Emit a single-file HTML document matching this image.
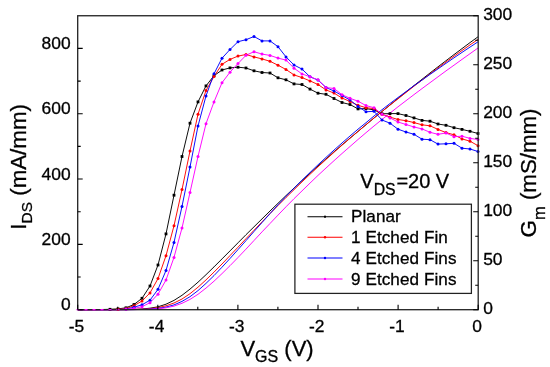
<!DOCTYPE html>
<html><head><meta charset="utf-8"><title>Transfer characteristics</title>
<style>html,body{margin:0;padding:0;background:#fff}svg{display:block}text{font-family:"Liberation Sans",Arial,sans-serif;fill:#000;stroke:#000;stroke-width:.3px}</style></head><body>
<svg width="550" height="367" viewBox="0 0 550 367">
<rect width="550" height="367" fill="#fff"/>
<g fill="none" stroke-width="0.95" stroke-linejoin="round">
<polyline stroke="#000000" points="78.0,309.7 86.0,309.7 94.0,309.7 102.0,309.7 110.0,309.7 118.0,309.7 126.0,309.6 134.0,309.4 142.0,309.0 150.0,308.2 158.0,306.8 166.0,304.2 174.0,300.4 182.0,295.3 190.0,289.1 198.0,282.2 206.0,274.7 214.0,266.9 222.0,258.9 230.0,250.9 238.0,242.8 246.0,234.7 254.0,226.8 262.0,218.9 270.0,211.0 278.0,203.3 286.0,195.6 294.0,188.1 302.0,180.6 310.0,173.2 318.0,166.0 326.0,158.9 334.0,151.8 342.0,144.9 350.0,138.1 358.0,131.4 366.0,124.7 374.0,118.0 382.0,111.5 390.0,105.0 398.0,98.4 406.0,92.0 414.0,85.6 422.0,79.3 430.0,73.0 438.0,66.8 446.0,60.7 454.0,54.6 462.0,48.6 470.0,42.6 478.0,36.8"/>
<polyline stroke="#ff0000" points="78.0,309.7 86.0,309.7 94.0,309.7 102.0,309.7 110.0,309.7 118.0,309.7 126.0,309.6 134.0,309.5 142.0,309.2 150.0,308.7 158.0,307.6 166.0,305.8 174.0,303.0 182.0,299.0 190.0,293.7 198.0,287.2 206.0,279.9 214.0,272.1 222.0,264.0 230.0,255.6 238.0,247.2 246.0,238.7 254.0,230.3 262.0,221.9 270.0,213.6 278.0,205.5 286.0,197.5 294.0,189.7 302.0,181.9 310.0,174.3 318.0,166.8 326.0,159.5 334.0,152.3 342.0,145.2 350.0,138.3 358.0,131.5 366.0,124.7 374.0,118.0 382.0,111.5 390.0,105.1 398.0,98.8 406.0,92.5 414.0,86.2 422.0,80.1 430.0,73.9 438.0,67.9 446.0,62.0 454.0,56.2 462.0,50.5 470.0,44.9 478.0,39.4"/>
<polyline stroke="#0000ff" points="78.0,309.7 86.0,309.7 94.0,309.7 102.0,309.7 110.0,309.7 118.0,309.7 126.0,309.7 134.0,309.6 142.0,309.4 150.0,309.1 158.0,308.4 166.0,307.1 174.0,304.9 182.0,301.4 190.0,296.7 198.0,290.6 206.0,283.4 214.0,275.6 222.0,267.2 230.0,258.5 238.0,249.6 246.0,240.6 254.0,231.5 262.0,222.6 270.0,213.6 278.0,204.8 286.0,196.4 294.0,188.3 302.0,180.2 310.0,172.5 318.0,164.8 326.0,157.4 334.0,150.1 342.0,143.0 350.0,136.0 358.0,129.2 366.0,122.7 374.0,116.0 382.0,109.7 390.0,103.5 398.0,97.5 406.0,91.6 414.0,85.7 422.0,80.1 430.0,74.4 438.0,68.9 446.0,63.3 454.0,57.8 462.0,52.4 470.0,47.1 478.0,41.8"/>
<polyline stroke="#ff00ff" points="78.0,309.7 86.0,309.7 94.0,309.7 102.0,309.7 110.0,309.7 118.0,309.7 126.0,309.7 134.0,309.6 142.0,309.5 150.0,309.3 158.0,308.8 166.0,307.8 174.0,306.1 182.0,303.3 190.0,299.4 198.0,294.3 206.0,288.1 214.0,281.2 222.0,273.6 230.0,265.7 238.0,257.5 246.0,249.1 254.0,240.5 262.0,231.9 270.0,223.5 278.0,215.1 286.0,206.8 294.0,198.7 302.0,190.9 310.0,183.1 318.0,175.4 326.0,168.0 334.0,160.7 342.0,153.5 350.0,146.5 358.0,139.5 366.0,132.7 374.0,126.0 382.0,119.5 390.0,113.1 398.0,106.8 406.0,100.7 414.0,94.6 422.0,88.6 430.0,82.7 438.0,76.8 446.0,70.9 454.0,65.2 462.0,59.4 470.0,53.7 478.0,48.0"/>
<polyline stroke="#000000" points="78.0,309.7 86.0,309.7 94.0,309.6 102.0,309.5 110.0,309.3 118.0,308.9 126.0,307.8 134.0,304.5 142.0,298.3 150.0,286.0 158.0,265.0 166.0,233.9 174.0,195.2 182.0,156.5 190.0,123.2 198.0,101.9 206.0,85.9 214.0,75.7 222.0,70.0 230.0,67.9 238.0,67.2 246.0,68.0 254.0,70.8 262.0,72.5 270.0,73.0 278.0,77.8 286.0,79.8 294.0,83.9 302.0,84.5 310.0,89.1 318.0,93.2 326.0,94.3 334.0,98.5 342.0,102.5 350.0,104.5 358.0,108.9 366.0,108.6 374.0,109.9 382.0,113.8 390.0,113.6 398.0,113.6 406.0,115.5 414.0,117.9 422.0,120.4 430.0,121.2 438.0,124.0 446.0,125.3 454.0,127.7 462.0,129.4 470.0,131.3 478.0,133.5"/>
<polyline stroke="#ff0000" points="78.0,309.7 86.0,309.7 94.0,309.7 102.0,309.6 110.0,309.5 118.0,309.3 126.0,308.6 134.0,305.7 142.0,301.0 150.0,292.9 158.0,278.6 166.0,255.7 174.0,225.7 182.0,189.6 190.0,151.0 198.0,114.2 206.0,90.5 214.0,76.5 222.0,64.3 230.0,59.4 238.0,56.1 246.0,54.5 254.0,56.9 262.0,58.9 270.0,61.3 278.0,65.2 286.0,69.5 294.0,74.9 302.0,77.6 310.0,80.9 318.0,84.5 326.0,89.9 334.0,93.1 342.0,98.0 350.0,101.5 358.0,105.3 366.0,107.7 374.0,108.6 382.0,114.3 390.0,117.1 398.0,119.5 406.0,120.7 414.0,122.6 422.0,124.8 430.0,125.8 438.0,129.4 446.0,132.6 454.0,134.8 462.0,138.9 470.0,141.2 478.0,145.7"/>
<polyline stroke="#0000ff" points="78.0,309.7 86.0,309.7 94.0,309.7 102.0,309.7 110.0,309.6 118.0,309.5 126.0,309.1 134.0,307.2 142.0,304.8 150.0,300.2 158.0,289.3 166.0,270.5 174.0,242.4 182.0,206.4 190.0,167.0 198.0,126.0 206.0,95.9 214.0,73.8 222.0,58.2 230.0,49.5 238.0,41.7 246.0,39.7 254.0,36.5 262.0,40.9 270.0,40.9 278.0,46.7 286.0,56.9 294.0,65.0 302.0,69.1 310.0,76.8 318.0,80.1 326.0,87.5 334.0,91.0 342.0,95.5 350.0,100.0 358.0,106.4 366.0,111.8 374.0,111.3 382.0,120.0 390.0,123.2 398.0,129.2 406.0,132.0 414.0,134.3 422.0,139.2 430.0,139.7 438.0,144.1 446.0,143.8 454.0,143.3 462.0,148.2 470.0,149.0 478.0,151.5"/>
<polyline stroke="#ff00ff" points="78.0,309.7 86.0,309.7 94.0,309.7 102.0,309.7 110.0,309.7 118.0,309.6 126.0,309.3 134.0,308.4 142.0,306.7 150.0,302.7 158.0,294.2 166.0,280.0 174.0,257.4 182.0,228.0 190.0,192.5 198.0,156.5 206.0,123.7 214.0,101.9 222.0,82.7 230.0,72.2 238.0,63.5 246.0,55.3 254.0,51.7 262.0,54.1 270.0,55.4 278.0,58.1 286.0,60.1 294.0,68.2 302.0,73.9 310.0,76.8 318.0,79.8 326.0,87.5 334.0,88.5 342.0,94.7 350.0,98.3 358.0,101.2 366.0,105.6 374.0,107.7 382.0,114.3 390.0,117.9 398.0,122.0 406.0,124.5 414.0,127.0 422.0,128.9 430.0,132.3 438.0,134.3 446.0,133.0 454.0,136.7 462.0,136.2 470.0,138.4 478.0,139.5"/>
</g>
<g fill="#000000">
<rect x="108.6" y="307.9" width="2.8" height="2.8"/>
<rect x="116.6" y="307.5" width="2.8" height="2.8"/>
<rect x="124.6" y="306.4" width="2.8" height="2.8"/>
<rect x="132.6" y="303.1" width="2.8" height="2.8"/>
<rect x="140.6" y="296.9" width="2.8" height="2.8"/>
<rect x="148.6" y="284.6" width="2.8" height="2.8"/>
<rect x="156.6" y="263.6" width="2.8" height="2.8"/>
<rect x="164.6" y="232.5" width="2.8" height="2.8"/>
<rect x="172.6" y="193.8" width="2.8" height="2.8"/>
<rect x="180.6" y="155.1" width="2.8" height="2.8"/>
<rect x="188.6" y="121.8" width="2.8" height="2.8"/>
<rect x="196.6" y="100.5" width="2.8" height="2.8"/>
<rect x="204.6" y="84.5" width="2.8" height="2.8"/>
<rect x="212.6" y="74.3" width="2.8" height="2.8"/>
<rect x="220.6" y="68.6" width="2.8" height="2.8"/>
<rect x="228.6" y="66.5" width="2.8" height="2.8"/>
<rect x="236.6" y="65.8" width="2.8" height="2.8"/>
<rect x="244.6" y="66.6" width="2.8" height="2.8"/>
<rect x="252.6" y="69.4" width="2.8" height="2.8"/>
<rect x="260.6" y="71.1" width="2.8" height="2.8"/>
<rect x="268.6" y="71.6" width="2.8" height="2.8"/>
<rect x="276.6" y="76.4" width="2.8" height="2.8"/>
<rect x="284.6" y="78.4" width="2.8" height="2.8"/>
<rect x="292.6" y="82.5" width="2.8" height="2.8"/>
<rect x="300.6" y="83.1" width="2.8" height="2.8"/>
<rect x="308.6" y="87.7" width="2.8" height="2.8"/>
<rect x="316.6" y="91.8" width="2.8" height="2.8"/>
<rect x="324.6" y="92.9" width="2.8" height="2.8"/>
<rect x="332.6" y="97.1" width="2.8" height="2.8"/>
<rect x="340.6" y="101.1" width="2.8" height="2.8"/>
<rect x="348.6" y="103.1" width="2.8" height="2.8"/>
<rect x="356.6" y="107.5" width="2.8" height="2.8"/>
<rect x="364.6" y="107.2" width="2.8" height="2.8"/>
<rect x="372.6" y="108.5" width="2.8" height="2.8"/>
<rect x="380.6" y="112.4" width="2.8" height="2.8"/>
<rect x="388.6" y="112.2" width="2.8" height="2.8"/>
<rect x="396.6" y="112.2" width="2.8" height="2.8"/>
<rect x="404.6" y="114.1" width="2.8" height="2.8"/>
<rect x="412.6" y="116.5" width="2.8" height="2.8"/>
<rect x="420.6" y="119.0" width="2.8" height="2.8"/>
<rect x="428.6" y="119.8" width="2.8" height="2.8"/>
<rect x="436.6" y="122.6" width="2.8" height="2.8"/>
<rect x="444.6" y="123.9" width="2.8" height="2.8"/>
<rect x="452.6" y="126.3" width="2.8" height="2.8"/>
<rect x="460.6" y="128.0" width="2.8" height="2.8"/>
<rect x="468.6" y="129.9" width="2.8" height="2.8"/>
<rect x="476.6" y="132.1" width="2.8" height="2.8"/>
</g>
<g fill="#ff0000">
<circle cx="118.0" cy="309.3" r="1.5"/>
<circle cx="126.0" cy="308.6" r="1.5"/>
<circle cx="134.0" cy="305.7" r="1.5"/>
<circle cx="142.0" cy="301.0" r="1.5"/>
<circle cx="150.0" cy="292.9" r="1.5"/>
<circle cx="158.0" cy="278.6" r="1.5"/>
<circle cx="166.0" cy="255.7" r="1.5"/>
<circle cx="174.0" cy="225.7" r="1.5"/>
<circle cx="182.0" cy="189.6" r="1.5"/>
<circle cx="190.0" cy="151.0" r="1.5"/>
<circle cx="198.0" cy="114.2" r="1.5"/>
<circle cx="206.0" cy="90.5" r="1.5"/>
<circle cx="214.0" cy="76.5" r="1.5"/>
<circle cx="222.0" cy="64.3" r="1.5"/>
<circle cx="230.0" cy="59.4" r="1.5"/>
<circle cx="238.0" cy="56.1" r="1.5"/>
<circle cx="246.0" cy="54.5" r="1.5"/>
<circle cx="254.0" cy="56.9" r="1.5"/>
<circle cx="262.0" cy="58.9" r="1.5"/>
<circle cx="270.0" cy="61.3" r="1.5"/>
<circle cx="278.0" cy="65.2" r="1.5"/>
<circle cx="286.0" cy="69.5" r="1.5"/>
<circle cx="294.0" cy="74.9" r="1.5"/>
<circle cx="302.0" cy="77.6" r="1.5"/>
<circle cx="310.0" cy="80.9" r="1.5"/>
<circle cx="318.0" cy="84.5" r="1.5"/>
<circle cx="326.0" cy="89.9" r="1.5"/>
<circle cx="334.0" cy="93.1" r="1.5"/>
<circle cx="342.0" cy="98.0" r="1.5"/>
<circle cx="350.0" cy="101.5" r="1.5"/>
<circle cx="358.0" cy="105.3" r="1.5"/>
<circle cx="366.0" cy="107.7" r="1.5"/>
<circle cx="374.0" cy="108.6" r="1.5"/>
<circle cx="382.0" cy="114.3" r="1.5"/>
<circle cx="390.0" cy="117.1" r="1.5"/>
<circle cx="398.0" cy="119.5" r="1.5"/>
<circle cx="406.0" cy="120.7" r="1.5"/>
<circle cx="414.0" cy="122.6" r="1.5"/>
<circle cx="422.0" cy="124.8" r="1.5"/>
<circle cx="430.0" cy="125.8" r="1.5"/>
<circle cx="438.0" cy="129.4" r="1.5"/>
<circle cx="446.0" cy="132.6" r="1.5"/>
<circle cx="454.0" cy="134.8" r="1.5"/>
<circle cx="462.0" cy="138.9" r="1.5"/>
<circle cx="470.0" cy="141.2" r="1.5"/>
<circle cx="478.0" cy="145.7" r="1.5"/>
</g>
<g fill="#0000ff">
<circle cx="126.0" cy="309.1" r="1.5"/>
<circle cx="134.0" cy="307.2" r="1.5"/>
<circle cx="142.0" cy="304.8" r="1.5"/>
<circle cx="150.0" cy="300.2" r="1.5"/>
<circle cx="158.0" cy="289.3" r="1.5"/>
<circle cx="166.0" cy="270.5" r="1.5"/>
<circle cx="174.0" cy="242.4" r="1.5"/>
<circle cx="182.0" cy="206.4" r="1.5"/>
<circle cx="190.0" cy="167.0" r="1.5"/>
<circle cx="198.0" cy="126.0" r="1.5"/>
<circle cx="206.0" cy="95.9" r="1.5"/>
<circle cx="214.0" cy="73.8" r="1.5"/>
<circle cx="222.0" cy="58.2" r="1.5"/>
<circle cx="230.0" cy="49.5" r="1.5"/>
<circle cx="238.0" cy="41.7" r="1.5"/>
<circle cx="246.0" cy="39.7" r="1.5"/>
<circle cx="254.0" cy="36.5" r="1.5"/>
<circle cx="262.0" cy="40.9" r="1.5"/>
<circle cx="270.0" cy="40.9" r="1.5"/>
<circle cx="278.0" cy="46.7" r="1.5"/>
<circle cx="286.0" cy="56.9" r="1.5"/>
<circle cx="294.0" cy="65.0" r="1.5"/>
<circle cx="302.0" cy="69.1" r="1.5"/>
<circle cx="310.0" cy="76.8" r="1.5"/>
<circle cx="318.0" cy="80.1" r="1.5"/>
<circle cx="326.0" cy="87.5" r="1.5"/>
<circle cx="334.0" cy="91.0" r="1.5"/>
<circle cx="342.0" cy="95.5" r="1.5"/>
<circle cx="350.0" cy="100.0" r="1.5"/>
<circle cx="358.0" cy="106.4" r="1.5"/>
<circle cx="366.0" cy="111.8" r="1.5"/>
<circle cx="374.0" cy="111.3" r="1.5"/>
<circle cx="382.0" cy="120.0" r="1.5"/>
<circle cx="390.0" cy="123.2" r="1.5"/>
<circle cx="398.0" cy="129.2" r="1.5"/>
<circle cx="406.0" cy="132.0" r="1.5"/>
<circle cx="414.0" cy="134.3" r="1.5"/>
<circle cx="422.0" cy="139.2" r="1.5"/>
<circle cx="430.0" cy="139.7" r="1.5"/>
<circle cx="438.0" cy="144.1" r="1.5"/>
<circle cx="446.0" cy="143.8" r="1.5"/>
<circle cx="454.0" cy="143.3" r="1.5"/>
<circle cx="462.0" cy="148.2" r="1.5"/>
<circle cx="470.0" cy="149.0" r="1.5"/>
<circle cx="478.0" cy="151.5" r="1.5"/>
</g>
<g fill="#ff00ff">
<circle cx="126.0" cy="309.3" r="1.5"/>
<circle cx="134.0" cy="308.4" r="1.5"/>
<circle cx="142.0" cy="306.7" r="1.5"/>
<circle cx="150.0" cy="302.7" r="1.5"/>
<circle cx="158.0" cy="294.2" r="1.5"/>
<circle cx="166.0" cy="280.0" r="1.5"/>
<circle cx="174.0" cy="257.4" r="1.5"/>
<circle cx="182.0" cy="228.0" r="1.5"/>
<circle cx="190.0" cy="192.5" r="1.5"/>
<circle cx="198.0" cy="156.5" r="1.5"/>
<circle cx="206.0" cy="123.7" r="1.5"/>
<circle cx="214.0" cy="101.9" r="1.5"/>
<circle cx="222.0" cy="82.7" r="1.5"/>
<circle cx="230.0" cy="72.2" r="1.5"/>
<circle cx="238.0" cy="63.5" r="1.5"/>
<circle cx="246.0" cy="55.3" r="1.5"/>
<circle cx="254.0" cy="51.7" r="1.5"/>
<circle cx="262.0" cy="54.1" r="1.5"/>
<circle cx="270.0" cy="55.4" r="1.5"/>
<circle cx="278.0" cy="58.1" r="1.5"/>
<circle cx="286.0" cy="60.1" r="1.5"/>
<circle cx="294.0" cy="68.2" r="1.5"/>
<circle cx="302.0" cy="73.9" r="1.5"/>
<circle cx="310.0" cy="76.8" r="1.5"/>
<circle cx="318.0" cy="79.8" r="1.5"/>
<circle cx="326.0" cy="87.5" r="1.5"/>
<circle cx="334.0" cy="88.5" r="1.5"/>
<circle cx="342.0" cy="94.7" r="1.5"/>
<circle cx="350.0" cy="98.3" r="1.5"/>
<circle cx="358.0" cy="101.2" r="1.5"/>
<circle cx="366.0" cy="105.6" r="1.5"/>
<circle cx="374.0" cy="107.7" r="1.5"/>
<circle cx="382.0" cy="114.3" r="1.5"/>
<circle cx="390.0" cy="117.9" r="1.5"/>
<circle cx="398.0" cy="122.0" r="1.5"/>
<circle cx="406.0" cy="124.5" r="1.5"/>
<circle cx="414.0" cy="127.0" r="1.5"/>
<circle cx="422.0" cy="128.9" r="1.5"/>
<circle cx="430.0" cy="132.3" r="1.5"/>
<circle cx="438.0" cy="134.3" r="1.5"/>
<circle cx="446.0" cy="133.0" r="1.5"/>
<circle cx="454.0" cy="136.7" r="1.5"/>
<circle cx="462.0" cy="136.2" r="1.5"/>
<circle cx="470.0" cy="138.4" r="1.5"/>
<circle cx="478.0" cy="139.5" r="1.5"/>
</g>
<rect x="77.7" y="15.75" width="400.5" height="293.95" fill="none" stroke="#222" stroke-width="1.3"/>
<path d="M76.5,309.7h3 M84.5,309.7h3 M92.5,309.7h3 M100.5,309.7h3 M108.5,309.7h3 M116.5,309.7h3" stroke="#ff00ff" stroke-width="1.3" fill="none"/>
<path d="M77.7,309.7v-5 M117.7,309.7v-3 M157.8,309.7v-5 M197.8,309.7v-3 M237.9,309.7v-5 M277.9,309.7v-3 M318.0,309.7v-5 M358.0,309.7v-3 M398.1,309.7v-5 M438.1,309.7v-3 M478.2,309.7v-5 M77.7,309.7h5 M77.7,277.0h3 M77.7,244.4h5 M77.7,211.7h3 M77.7,179.0h5 M77.7,146.4h3 M77.7,113.7h5 M77.7,81.1h3 M77.7,48.4h5 M478.2,309.7h-5 M478.2,285.2h-3 M478.2,260.7h-5 M478.2,236.2h-3 M478.2,211.7h-5 M478.2,187.2h-3 M478.2,162.7h-5 M478.2,138.2h-3 M478.2,113.7h-5 M478.2,89.2h-3 M478.2,64.7h-5 M478.2,40.2h-3 M478.2,15.8h-5" stroke="#000" stroke-width="1.1" fill="none"/>
<g font-size="17.4">
<text x="70.6" y="310.3" text-anchor="end">0</text>
<text x="70.6" y="245.0" text-anchor="end">200</text>
<text x="70.6" y="179.6" text-anchor="end">400</text>
<text x="70.6" y="114.3" text-anchor="end">600</text>
<text x="70.6" y="49.0" text-anchor="end">800</text>
<text x="483.2" y="314.0">0</text>
<text x="483.2" y="265.0">50</text>
<text x="483.2" y="216.0">100</text>
<text x="483.2" y="167.0">150</text>
<text x="483.2" y="118.0">200</text>
<text x="483.2" y="69.0">250</text>
<text x="483.2" y="20.1">300</text>
<text x="76.5" y="332" text-anchor="middle">-5</text>
<text x="156.6" y="332" text-anchor="middle">-4</text>
<text x="236.7" y="332" text-anchor="middle">-3</text>
<text x="316.8" y="332" text-anchor="middle">-2</text>
<text x="396.9" y="332" text-anchor="middle">-1</text>
<text x="477.0" y="332" text-anchor="middle">0</text>
</g>
<text x="240.4" y="356" font-size="22">V<tspan font-size="16" dy="6">GS</tspan><tspan dy="-6"> (V)</tspan></text>
<text transform="translate(25.6,229.7) rotate(-90)" font-size="22.3">I<tspan font-size="15.5" dy="6">DS</tspan><tspan dy="-6"> (mA/mm)</tspan></text>
<text transform="translate(536.4,237.4) rotate(-90)" font-size="22.3">G<tspan font-size="16.5" dy="9">m</tspan><tspan dy="-9"> (mS/mm)</tspan></text>
<text x="360.3" y="187.5" font-size="20">V<tspan font-size="15.8" dy="7">DS</tspan><tspan dy="-7" dx="0.8">=20 V</tspan></text>
<rect x="294.9" y="204.2" width="176.5" height="89.2" fill="#fff" stroke="#222" stroke-width="1.25"/>
<g font-size="17.1" letter-spacing="0.08">
<path d="M307.5,216.7H342.5" stroke="#000000" stroke-width="1.1"/>
<rect x="324" y="215.7" width="2" height="2" fill="#000000"/>
<text x="351" y="221.9">Planar</text>
<path d="M307.5,237.2H342.5" stroke="#ff0000" stroke-width="1.1"/>
<circle cx="325" cy="237.2" r="1.2" fill="#ff0000"/>
<text x="351" y="243.0">1 Etched Fin</text>
<path d="M307.5,258H342.5" stroke="#0000ff" stroke-width="1.1"/>
<circle cx="325" cy="258" r="1.2" fill="#0000ff"/>
<text x="351" y="263.8">4 Etched Fins</text>
<path d="M307.5,279H342.5" stroke="#ff00ff" stroke-width="1.1"/>
<circle cx="325" cy="279" r="1.2" fill="#ff00ff"/>
<text x="351" y="284.8">9 Etched Fins</text>
</g>
</svg></body></html>
